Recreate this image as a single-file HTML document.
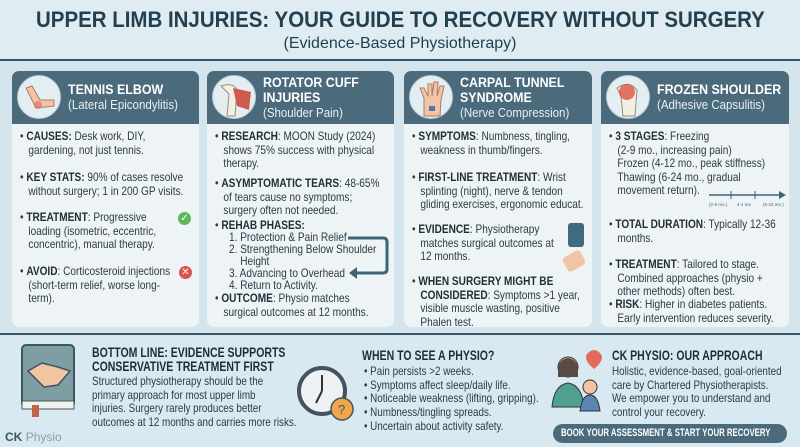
<!DOCTYPE html>
<html><head><meta charset="utf-8"><style>
*{margin:0;padding:0;box-sizing:border-box}
body{width:800px;height:447px;overflow:hidden;background:#d4e5ee;font-family:"Liberation Sans",sans-serif;color:#2c3a44;position:relative}
.a{position:absolute;white-space:nowrap}
.top{position:absolute;left:0;top:0;width:800px;height:61px;background:#dfecf2;border-bottom:2px solid #3a5566}
h1{position:absolute;top:7px;left:0;width:800px;text-align:center;font-weight:bold;font-size:22.5px;color:#22404f;white-space:nowrap;transform:scaleX(0.91);transform-origin:center top}
.sub{position:absolute;top:35px;left:0;width:800px;text-align:center;font-size:16px;color:#22404f}
.card{position:absolute;top:71px;height:256px;background:#eef3f6;border-radius:7px;overflow:hidden}
.ch{position:absolute;left:0;top:0;right:0;height:53px;background:#4b6b7c}
.ic{position:absolute;left:5px;top:4px;width:44px;height:44px;border-radius:50%;background:#e3eef3;border:1px solid #b8cbd4}
.ct{position:absolute;left:56px;color:#fff;font-weight:bold;font-size:13.5px;line-height:15px;white-space:nowrap;transform:scaleX(0.92);transform-origin:left top}
.cs{font-weight:normal;font-size:12.5px;color:#e8f0f4}
.t{position:absolute;font-size:12px;line-height:13.6px;color:#2c3a44;white-space:nowrap;transform:scaleX(0.84);transform-origin:left top}
.t b{color:#1f2d36}
.bl{position:absolute;font-size:12px;line-height:13.7px;white-space:nowrap;transform:scaleX(0.82);transform-origin:left top}
.bh{position:absolute;font-weight:bold;font-size:13.5px;line-height:13.5px;color:#1f2d36;white-space:nowrap;transform:scaleX(0.78);transform-origin:left top}
</style></head><body>
<div class="top"></div>
<h1>UPPER LIMB INJURIES: YOUR GUIDE TO RECOVERY WITHOUT SURGERY</h1>
<div class="sub">(Evidence-Based Physiotherapy)</div>

<!-- Card 1 -->
<div class="card" style="left:12px;width:187px">
 <div class="ch"><div class="ic"><svg width="44" height="44"><path d="M8 12 L18 32 L36 30 L36 24 L22 24 L14 10Z" fill="#f2c4a6" stroke="#b27a60"/><circle cx="20" cy="29" r="4" fill="#e06060" opacity=".6"/></svg></div>
 <div class="ct" style="top:11px">TENNIS ELBOW<br><span class="cs">(Lateral Epicondylitis)</span></div></div>
 <div class="t" style="left:8px;top:59px">• <b>CAUSES:</b> Desk work, DIY,<br>&nbsp;&nbsp;&nbsp;gardening, not just tennis.</div>
 <div class="t" style="left:8px;top:100px">• <b>KEY STATS:</b> 90% of cases resolve<br>&nbsp;&nbsp;&nbsp;without surgery; 1 in 200 GP visits.</div>
 <div class="t" style="left:8px;top:140px">• <b>TREATMENT</b>: Progressive<br>&nbsp;&nbsp;&nbsp;loading (isometric, eccentric,<br>&nbsp;&nbsp;&nbsp;concentric), manual therapy.</div>
 <div class="a" style="left:166px;top:141px;width:13px;height:13px;border-radius:50%;background:#5cb85c;color:#fff;font-size:10px;text-align:center;line-height:13px">✓</div>
 <div class="t" style="left:8px;top:194px">• <b>AVOID</b>: Corticosteroid injections<br>&nbsp;&nbsp;&nbsp;(short-term relief, worse long-<br>&nbsp;&nbsp;&nbsp;term).</div>
 <div class="a" style="left:167px;top:195px;width:13px;height:13px;border-radius:50%;background:#d9534f;color:#fff;font-size:10px;text-align:center;line-height:13px">✕</div>
</div>

<!-- Card 2 -->
<div class="card" style="left:207px;width:187px">
 <div class="ch"><div class="ic"><svg width="44" height="44"><path d="M8 10 Q20 6 24 14 L22 40 L14 40 L16 18Z" fill="#f4efe4" stroke="#9a8d78"/><path d="M20 12 L38 16 L36 34 L24 30Z" fill="#cf5a4e"/></svg></div>
 <div class="ct" style="top:4px">ROTATOR CUFF<br>INJURIES<br><span class="cs">(Shoulder Pain)</span></div></div>
 <div class="t" style="left:8px;top:59px">• <b>RESEARCH</b>: MOON Study (2024)<br>&nbsp;&nbsp;&nbsp;shows 75% success with physical<br>&nbsp;&nbsp;&nbsp;therapy.</div>
 <div class="t" style="left:8px;top:106px">• <b>ASYMPTOMATIC TEARS</b>: 48-65%<br>&nbsp;&nbsp;&nbsp;of tears cause no symptoms;<br>&nbsp;&nbsp;&nbsp;surgery often not needed.</div>
 <div class="t" style="left:8px;top:148px;line-height:12px">• <b>REHAB PHASES:</b><br>&nbsp;&nbsp;&nbsp;&nbsp;&nbsp;1. Protection &amp; Pain Relief<br>&nbsp;&nbsp;&nbsp;&nbsp;&nbsp;2. Strengthening Below Shoulder<br>&nbsp;&nbsp;&nbsp;&nbsp;&nbsp;&nbsp;&nbsp;&nbsp;&nbsp;Height<br>&nbsp;&nbsp;&nbsp;&nbsp;&nbsp;3. Advancing to Overhead<br>&nbsp;&nbsp;&nbsp;&nbsp;&nbsp;4. Return to Activity.</div>
 <svg class="a" style="left:138px;top:162px" width="45" height="50"><path d="M3 5 H38 Q42 5 42 9 V36 Q42 40 38 40 H10" fill="none" stroke="#3e6577" stroke-width="3"/><path d="M4 40 L12 34 L12 46Z" fill="#3e6577"/></svg>
 <div class="t" style="left:8px;top:221px">• <b>OUTCOME</b>: Physio matches<br>&nbsp;&nbsp;&nbsp;surgical outcomes at 12 months.</div>
</div>

<!-- Card 3 -->
<div class="card" style="left:404px;width:188px">
 <div class="ch"><div class="ic"><svg width="44" height="44"><path d="M14 40 L14 22 L10 12 L14 12 L18 20 L18 8 L22 8 L22 20 L24 6 L28 6 L27 20 L30 10 L34 10 L31 24 L30 40Z" fill="#f2c4a6" stroke="#b27a60"/><rect x="19" y="30" width="6" height="5" fill="#4a7ab0"/></svg></div>
 <div class="ct" style="top:4px">CARPAL TUNNEL<br>SYNDROME<br><span class="cs">(Nerve Compression)</span></div></div>
 <div class="t" style="left:8px;top:59px">• <b>SYMPTOMS</b>: Numbness, tingling,<br>&nbsp;&nbsp;&nbsp;weakness in thumb/fingers.</div>
 <div class="t" style="left:8px;top:100px">• <b>FIRST-LINE TREATMENT</b>: Wrist<br>&nbsp;&nbsp;&nbsp;splinting (night), nerve &amp; tendon<br>&nbsp;&nbsp;&nbsp;gliding exercises, ergonomic educat.</div>
 <div class="t" style="left:8px;top:152px">• <b>EVIDENCE</b>: Physiotherapy<br>&nbsp;&nbsp;&nbsp;matches surgical outcomes at<br>&nbsp;&nbsp;&nbsp;12 months.</div>
 <div class="a" style="left:164px;top:152px;width:16px;height:24px;background:#3f6a82;border-radius:3px"></div>
 <div class="a" style="left:160px;top:182px;width:20px;height:16px;background:#f2c4a6;border-radius:4px;transform:rotate(-30deg)"></div>
 <div class="t" style="left:8px;top:204px">• <b>WHEN SURGERY MIGHT BE<br>&nbsp;&nbsp;&nbsp;CONSIDERED</b>: Symptoms &gt;1 year,<br>&nbsp;&nbsp;&nbsp;visible muscle wasting, positive<br>&nbsp;&nbsp;&nbsp;Phalen test.</div>
</div>

<!-- Card 4 -->
<div class="card" style="left:601px;width:188px">
 <div class="ch"><div class="ic"><svg width="44" height="44"><path d="M10 12 Q22 4 30 14 L28 40 L16 40 L14 20Z" fill="#f4efe4" stroke="#9a8d78"/><circle cx="20" cy="16" r="8" fill="#e04a3a" opacity=".75"/></svg></div>
 <div class="ct" style="top:11px">FROZEN SHOULDER<br><span class="cs">(Adhesive Capsulitis)</span></div></div>
 <div class="t" style="left:8px;top:59px">• <b>3 STAGES</b>: Freezing<br>&nbsp;&nbsp;&nbsp;(2-9 mo., increasing pain)<br>&nbsp;&nbsp;&nbsp;Frozen (4-12 mo., peak stiffness)<br>&nbsp;&nbsp;&nbsp;Thawing (6-24 mo., gradual<br>&nbsp;&nbsp;&nbsp;movement return).</div>
 <svg class="a" style="left:106px;top:118px" width="80" height="20"><line x1="2" y1="6" x2="72" y2="6" stroke="#3e6577" stroke-width="1.5"/><path d="M72 2 L79 6 L72 10Z" fill="#3e6577"/><line x1="24" y1="2" x2="24" y2="10" stroke="#3e6577"/><line x1="48" y1="2" x2="48" y2="10" stroke="#3e6577"/><text x="2" y="17" font-size="4.5" fill="#3e6577" font-family="Liberation Sans">(2-9 mo.)</text><text x="30" y="17" font-size="4.5" fill="#3e6577" font-family="Liberation Sans">4-1 mo</text><text x="56" y="17" font-size="4.5" fill="#3e6577" font-family="Liberation Sans">(6-24 mo.)</text></svg>
 <div class="t" style="left:8px;top:147px">• <b>TOTAL DURATION</b>: Typically 12-36<br>&nbsp;&nbsp;&nbsp;months.</div>
 <div class="t" style="left:8px;top:187px">• <b>TREATMENT</b>: Tailored to stage.<br>&nbsp;&nbsp;&nbsp;Combined approaches (physio +<br>&nbsp;&nbsp;&nbsp;other methods) often best.</div>
 <div class="t" style="left:8px;top:227px">• <b>RISK</b>: Higher in diabetes patients.<br>&nbsp;&nbsp;&nbsp;Early intervention reduces severity.</div>
</div>

<!-- bottom -->
<div class="a" style="left:0;top:333px;width:800px;height:114px;background:#d9e9f1;border-top:2px solid #3a5566"></div>
<svg class="a" style="left:18px;top:343px" width="62" height="76"><rect x="4" y="2" width="52" height="62" rx="4" fill="#7f9ea3" stroke="#3c5563" stroke-width="2"/><rect x="4" y="58" width="52" height="8" fill="#f2f2ee" stroke="#3c5563"/><rect x="14" y="62" width="7" height="12" fill="#c0644a"/><path d="M10 28 L24 20 L40 24 L52 28 L40 42 L26 44Z" fill="#f3c4a1" stroke="#3c5563" stroke-width="1.5"/></svg>
<div class="bh" style="left:92px;top:346px">BOTTOM LINE: EVIDENCE SUPPORTS<br>CONSERVATIVE TREATMENT FIRST</div>
<div class="bl" style="left:92px;top:375px">Structured physiotherapy should be the<br>primary approach for most upper limb<br>injuries. Surgery rarely produces better<br>outcomes at 12 months and carries more risks.</div>
<div class="a" style="left:5px;top:430px;font-size:12px;color:#3c5563"><b>CK</b> <span style="color:#8aa0ab">Physio</span></div>

<svg class="a" style="left:296px;top:365px" width="62" height="60"><circle cx="26" cy="26" r="23" fill="#eef2f4" stroke="#44535c" stroke-width="4"/><line x1="26" y1="26" x2="26" y2="10" stroke="#333" stroke-width="2"/><line x1="26" y1="26" x2="20" y2="38" stroke="#333" stroke-width="2"/><circle cx="46" cy="44" r="11" fill="#f0a64a" stroke="#44535c" stroke-width="1.5"/><text x="42" y="49" font-size="13" fill="#44535c" font-family="Liberation Sans">?</text></svg>
<div class="bh" style="left:362px;top:349px">WHEN TO SEE A PHYSIO?</div>
<div class="bl" style="left:364px;top:365px">• Pain persists &gt;2 weeks.<br>• Symptoms affect sleep/daily life.<br>• Noticeable weakness (lifting, gripping).<br>• Numbness/tingling spreads.<br>• Uncertain about activity safety.</div>

<svg class="a" style="left:550px;top:347px" width="62" height="68"><path d="M38 6 Q44 0 50 6 Q56 12 44 22 Q32 12 38 6Z" fill="#e46a5e"/><circle cx="18" cy="20" r="10" fill="#f2c4a6" stroke="#333"/><path d="M8 18 Q18 4 28 18 L28 30 L8 30Z" fill="#5a4a44"/><path d="M2 60 Q4 38 18 36 Q32 38 34 60Z" fill="#4fa08f" stroke="#333"/><circle cx="40" cy="40" r="7" fill="#f2c4a6" stroke="#333"/><path d="M30 64 Q32 48 40 48 Q48 48 50 64Z" fill="#5a86b4" stroke="#333"/></svg>
<div class="bh" style="left:612px;top:349px">CK PHYSIO: OUR APPROACH</div>
<div class="bl" style="left:612px;top:365px">Holistic, evidence-based, goal-oriented<br>care by Chartered Physiotherapists.<br>We empower you to understand and<br>control your recovery.</div>
<div class="a" style="left:553px;top:424px;width:234px;height:19px;border-radius:10px;background:#4b6b7c;overflow:hidden"><div style="color:#fff;font-weight:bold;font-size:11px;line-height:19px;white-space:nowrap;transform:scaleX(0.71);transform-origin:left top;margin-left:8px">BOOK YOUR ASSESSMENT &amp; START YOUR RECOVERY</div></div>
</body></html>
